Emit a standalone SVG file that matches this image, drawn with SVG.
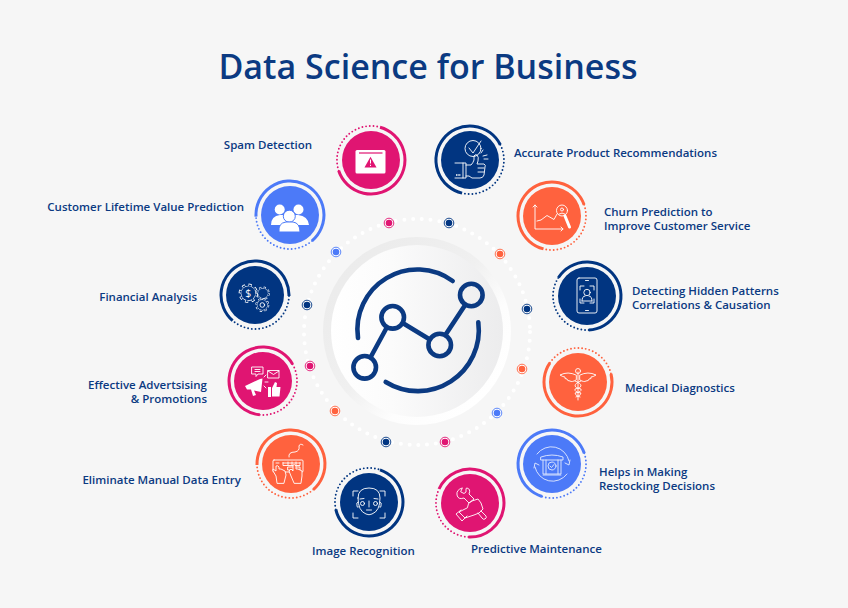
<svg xmlns="http://www.w3.org/2000/svg" width="848" height="608" viewBox="0 0 848 608">
<style>
text{font-family:"Open Sans","Noto Sans","Liberation Sans",sans-serif;font-weight:600;fill:#0b3a82}
.lb{font-size:11.5px}
.end{text-anchor:end}
.s{fill:none;stroke-width:3}
.d{fill:none;stroke-width:1.9;stroke-linecap:round;stroke-dasharray:0 3.7}
.i{fill:none;stroke:#fff;stroke-width:.9;stroke-linejoin:round;stroke-linecap:round}
.w{fill:#fff}
.navy{color:#013581}.pink{color:#e01572}.org{color:#ff623e}.blue{color:#4c7af8}
.c{fill:currentColor}.r{stroke:currentColor}
.dot{fill:#fff;stroke-width:.9}
.g{fill:none;stroke:#0b3a82;stroke-width:4.6;stroke-linecap:round}
</style>
<defs>
<linearGradient id="disc" x1="0" y1="0.5" x2="1" y2="0.5"><stop offset="0" stop-color="#ffffff"/><stop offset=".35" stop-color="#fbfbfb"/><stop offset="1" stop-color="#ececed"/></linearGradient>
<linearGradient id="halo" x1="0.1" y1="0.1" x2="0.85" y2="0.85"><stop offset="0" stop-color="#ebebeb"/><stop offset=".5" stop-color="#f0f0f0"/><stop offset=".75" stop-color="#fdfdfd"/><stop offset="1" stop-color="#ffffff"/></linearGradient>
<g id="gear"><circle r="8" fill="none" stroke="#fff" stroke-width="3.4" stroke-dasharray="3 3.28"/><circle r="7.6" fill="#fff"/><circle r="8" fill="none" stroke="#013581" stroke-width="1.7" stroke-dasharray="2 4.28" stroke-dashoffset="-.5"/><circle r="7" fill="#013581"/></g>
</defs>
<rect width="848" height="608" fill="#f6f6f6"/>
<text x="428" y="79" text-anchor="middle" font-size="34" id="title">Data Science for Business</text>

<g id="connectors">
<circle cx="417" cy="332" r="113" fill="none" stroke="#fff" stroke-width="4" stroke-linecap="round" stroke-dasharray="0 8.8"/>
<g class="pink"><circle class="dot r" cx="389" cy="223" r="4.8"/><circle class="c" cx="389" cy="223" r="3.3"/></g>
<g class="navy"><circle class="dot r" cx="449" cy="223" r="4.8"/><circle class="c" cx="449" cy="223" r="3.3"/></g>
<g class="org"><circle class="dot r" cx="500" cy="254" r="4.8"/><circle class="c" cx="500" cy="254" r="3.3"/></g>
<g class="navy"><circle class="dot r" cx="527" cy="309" r="4.8"/><circle class="c" cx="527" cy="309" r="3.3"/></g>
<g class="org"><circle class="dot r" cx="522" cy="369" r="4.8"/><circle class="c" cx="522" cy="369" r="3.3"/></g>
<g class="blue"><circle class="dot r" cx="497" cy="413" r="4.8"/><circle class="c" cx="497" cy="413" r="3.3"/></g>
<g class="pink"><circle class="dot r" cx="445" cy="442" r="4.8"/><circle class="c" cx="445" cy="442" r="3.3"/></g>
<g class="navy"><circle class="dot r" cx="386" cy="442" r="4.8"/><circle class="c" cx="386" cy="442" r="3.3"/></g>
<g class="org"><circle class="dot r" cx="335" cy="411" r="4.8"/><circle class="c" cx="335" cy="411" r="3.3"/></g>
<g class="pink"><circle class="dot r" cx="310" cy="366" r="4.8"/><circle class="c" cx="310" cy="366" r="3.3"/></g>
<g class="navy"><circle class="dot r" cx="307" cy="305" r="4.8"/><circle class="c" cx="307" cy="305" r="3.3"/></g>
<g class="blue"><circle class="dot r" cx="336" cy="252" r="4.8"/><circle class="c" cx="336" cy="252" r="3.3"/></g>
</g>

<g id="center">
<circle cx="417" cy="331" r="94" fill="url(#halo)"/>
<circle cx="417" cy="331" r="86" fill="url(#disc)"/>
<path class="g" d="M358 338A60 60 0 0 1 452.7 281"/>
<path class="g" d="M478.3 322.3A61 61 0 0 1 385.7 382"/>
<path class="g" d="M371 356.5L386.5 328M403.5 323.5L429 339M446 334L464.5 306"/>
<circle class="g" cx="364.7" cy="367.3" r="11.3"/>
<circle class="g" cx="392.7" cy="317.3" r="11.3"/>
<circle class="g" cx="439.7" cy="345" r="11.3"/>
<circle class="g" cx="471.3" cy="295" r="11.3"/>
</g>

<g id="spam" class="pink" transform="translate(371 160)">
<path class="s r" d="M9 -32.8A34 34 0 1 1 -32.3 10.7"/><path class="d r" d="M-32.3 10.7A34 34 0 0 1 9 -32.8"/>
<circle class="c" r="29"/>
<rect class="w" x="-15.5" y="-10" width="30" height="23.5" rx="1.5"/>
<path d="M-12 -7H11.5" stroke="#e01572" stroke-width="1.2" fill="none"/>
<path class="c" d="M-.5 -3.2L5.5 7.5H-6.5Z"/>
<path d="M-.5 -.5V3.5M-.5 4.8V6" stroke="#fff" stroke-width="1"/>
</g>
<g id="customer" class="blue" transform="translate(290 215)">
<path class="s r" d="M-34 1.6A34 34 0 1 1 22 25.9"/><path class="d r" d="M22 25.9A34 34 0 0 1 -34 1.6"/>
<circle class="c" r="29"/>
<circle class="w" cx="-10.3" cy="-5.5" r="5"/><circle class="w" cx="8.5" cy="-5.5" r="5"/>
<path class="w" d="M-19 10Q-19 1 -10 0H8Q18 1 19 10L8 10V13H-10V10Z"/>
<circle class="w" cx="-.7" cy="1.2" r="6" stroke="#4c7af8" stroke-width="1"/>
<path class="w" stroke="#4c7af8" stroke-width="1" d="M-11 17Q-12 8 -4 7H3Q10 8 10 17Z"/>
</g>
<g id="financial" class="navy" transform="translate(255 295)">
<path class="s r" d="M-22.4 25.6A34 34 0 1 1 34 1"/><path class="d r" d="M34 1A34 34 0 0 1 -22.4 25.6"/>
<circle class="c" r="29"/>
<use href="#gear" transform="translate(8 -1.7) scale(.7)"/>
<use href="#gear" transform="translate(7.3 10) scale(.72)"/>
<circle class="i" cx="7.3" cy="10" r="2.3"/>
<use href="#gear" transform="translate(-6.7 -1.7)"/>
<text x="-6.7" y="2" text-anchor="middle" font-size="10.5" style="fill:#fff;font-weight:400">$</text>
</g>
<g id="advert" class="pink" transform="translate(263 381)">
<path class="s r" d="M-3.3 33.8A34 34 0 1 1 29.6 -16.8"/><path class="d r" d="M29.6 -16.8A34 34 0 0 1 -3.3 33.8"/>
<circle class="c" r="29"/>
<path class="i" d="M-11 -14H0V-7H-5L-7 -4.5V-7H-11ZM5 -10.5H16V-3H5ZM5 -10L10.5 -6.5L16 -10"/>
<path class="i" d="M-8 -11.5H-3M-8 -9.5H-3"/>
<path class="w" d="M-18 5L-3 -2L-.5 -2.5L-2 11L-9 9.5L-7 14L-10 15L-12 8.5L-16 8.5Z"/>
<path class="i" d="M1 -4L3 -6M2 1H5M1 5L3 7"/>
<path class="w" d="M5 6H8V16H5ZM9 7L12 1L14 2L13.5 6H17.5L16.5 15.5H9Z"/>
</g>
<g id="eliminate" class="org" transform="translate(291 464)">
<path class="s r" d="M-34 1A34 34 0 1 1 22.3 25.6"/><path class="d r" d="M22.3 25.6A34 34 0 0 1 -34 1"/>
<circle class="c" r="29"/>
<path class="i" d="M-2 -7Q-3 -12 4 -12Q9 -13 8 -18Q9 -21 12 -19"/>
<rect class="i" x="-18" y="-4" width="30" height="12" rx="1"/>
<path class="i" d="M-15 -1H-12M-8 -1H9M-8 -1.5V1.5H9V-1.5M-3 -2V1M1 -2V1M5 -2V1M-3 3H9V6H-3Z"/>
<path class="i" style="fill:#ff623e" d="M-14 19L-15 12L-18 7V5L-15 7V2Q-13 1 -12 3L-12 5L-10 5L-8 6L-6 7L-5 11L-7 19ZM3 19L0 12L-2 7L0 5L2 7L2 1Q4 0 5 2L5 5L7 5L9 6L11 7L11 12L10 19Z"/>
</g>
<g id="image" class="navy" transform="translate(369 502)">
<path class="s r" d="M11 -32.2A34 34 0 1 1 -33.2 7.4"/><path class="d r" d="M-33.2 7.4A34 34 0 0 1 11 -32.2"/>
<circle class="c" r="29"/>
<path class="i" d="M-11 -4Q-11 -14 0 -14Q11 -14 11 -4Q11 9 3 12Q0 13.5 -3 12Q-11 9 -11 -4ZM-11 0Q-13 0 -12 4Q-12 6 -10.5 5M11 0Q13 0 12 4Q12 6 10.5 5"/>
<path class="i" d="M-16 -6V-11H-11M11 -11H16V-6M-16 11V16H-11M11 16H16V11"/>
<circle class="i" cx="-6.5" cy="1.5" r="2"/><circle class="i" cx="6.5" cy="1.5" r="2"/>
<path class="i" d="M-9 -3L-5 -3.5M9 -3L5 -3.5M0 -1V5M-2.5 8H2.5"/>
</g>
<g id="predictive" class="pink" transform="translate(470 503)">
<path class="s r" d="M-31 -14A34 34 0 1 1 -1.6 34"/><path class="d r" d="M-1.6 34A34 34 0 0 1 -31 -14"/>
<circle class="c" r="29"/>
<path class="i" d="M-8 -15Q-14 -13 -13 -8Q-12 -3 -6 -5L-1 0L4 -4L-1 -9Q1 -14 -3 -15L-4 -14.5L-4 -11L-6 -9.5L-9 -11Z"/>
<path class="i" d="M-1 0L2 -2L8 -4L11 0L13 6L9 10L4 12L-5 15L-11 9L-3 5Z"/>
<path class="i" d="M-9 7L-14 11L-8 18L-3 13M11 8L16 13Q17 15 15 16Q13 17 12 15L8 10"/>
</g>
<g id="accurate" class="navy" transform="translate(470 160)">
<path class="s r" d="M-7.9 33.1A34 34 0 1 1 30.3 -15.3"/><path class="d r" d="M30.3 -15.3A34 34 0 0 1 -7.9 33.1"/>
<circle class="c" r="29"/>
<circle class="i" cx="3" cy="-11.5" r="8"/>
<path class="i" d="M-1 -12L3 -7L11 -19"/>
<path class="i" d="M-15 3H-4V18H-15M-7 3V18M-4 5H1Q3 3 4 0L4 -4Q5 -6 7 -5Q9 -3 8 1L7 4L14 4Q16 5 15 7L14 15Q13 18 10 18H2L-1 16H-4"/>
<path class="i" d="M8 8H14M8 12H14M11 -7L13 -10M13 -4L17 -5M14 -1H18"/>
<path d="M-14 15H-9" stroke="#fff" stroke-width="1.6" stroke-dasharray="1.5 .8"/>
</g>
<g id="churn" class="org" transform="translate(552 216)">
<path class="s r" d="M-8.5 32.9A34 34 0 1 1 32.1 -11.2"/><path class="d r" d="M32.1 -11.2A34 34 0 0 1 -8.5 32.9"/>
<circle class="c" r="29"/>
<path class="i" d="M-17 -11V13H11M-19 -9L-17 -11L-15 -9M9 11L11 13L9 15"/>
<path class="i" d="M-15 5L-11 4L-5 -.5L2 3.5L5 -2"/>
<circle class="i" cx="10" cy="-5.5" r="5.5"/><circle class="i" cx="10" cy="-6.5" r="1.5"/><path class="i" d="M7 -2Q10 -4 13 -2"/>
<path d="M13 0L17.5 11" stroke="#fff" stroke-width="3" stroke-linecap="round"/>
</g>
<g id="detecting" class="navy" transform="translate(587 296)">
<path class="s r" d="M-28.5 -18.5A34 34 0 1 1 1.7 34"/><path class="d r" d="M1.7 34A34 34 0 0 1 -28.5 -18.5"/>
<circle class="c" r="29"/>
<rect class="i" x="-10" y="-18" width="20" height="35" rx="2"/>
<path class="i" d="M-1.5 -15.5H1.5M-1.5 14.5H1.5M-7 -6V-10H-3M3 -10H7V-6M-7 3V7H-3M3 7H7V3"/>
<circle class="i" cx="0" cy="-3.5" r="3.2"/>
<path class="i" d="M-5 5Q-5 0 -2 0M5 5Q5 0 2 0M-5 5H5"/>
</g>
<g id="medical" class="org" transform="translate(578 382)">
<path class="s r" d="M33 -8.2A34 34 0 1 1 -28.1 -19.2"/><path class="d r" d="M-28.1 -19.2A34 34 0 0 1 33 -8.2"/>
<circle class="c" r="29"/>
<path class="i" d="M0 -10V18"/><circle class="i" cx="0" cy="-11" r="2.5"/>
<path class="i" d="M-2 -7Q-10 -11 -18 -7Q-15 -5 -13 -5Q-14 -3 -11 -3Q-11 -1 -8 -1Q-6 .5 -2 -2ZM2 -7Q10 -11 18 -7Q15 -5 13 -5Q14 -3 11 -3Q11 -1 8 -1Q6 .5 2 -2Z"/>
<path class="i" d="M-3 -1Q3 1 3 4Q3 6 -3 7Q-4 10 3 11Q3 14 -2 15M3 -1Q-3 1 -3 4Q-3 6 3 7Q4 10 -3 11Q-3 14 2 15"/>
</g>
<g id="helps" class="blue" transform="translate(552 464)">
<path class="s r" d="M-10 32.5A34 34 0 1 1 32.3 -10.7"/><path class="d r" d="M32.3 -10.7A34 34 0 0 1 -10 32.5"/>
<circle class="c" r="29"/>
<g style="opacity:.85"><path class="i" d="M-15 -10A18 18 0 0 1 17 -3M18 -4L17 1L13 -1M15 10A18 18 0 0 1 -17 3M-18 4L-17 -1L-13 1"/>
<path class="i" d="M-11 -7Q0 -11 11 -7V-4H-11ZM-9 -4V10H9V-4M-6 -4V10M6 -4V10M-9 11H9"/>
<circle class="i" cx="0" cy="2" r="4"/><path class="i" d="M-2 2L-.5 3.5L2 .5"/></g>
</g>

<text class="lb end" x="312" y="149">Spam Detection</text>
<text class="lb end" x="244" y="211">Customer Lifetime Value Prediction</text>
<text class="lb end" x="197" y="301">Financial Analysis</text>
<text class="lb end" x="207" y="389">Effective Advertsising</text>
<text class="lb end" x="207" y="403">&amp; Promotions</text>
<text class="lb end" x="241" y="484">Eliminate Manual Data Entry</text>
<text class="lb" x="312" y="555">Image Recognition</text>
<text class="lb" x="471" y="553">Predictive Maintenance</text>
<text class="lb" x="599" y="476">Helps in Making</text>
<text class="lb" x="599" y="490">Restocking Decisions</text>
<text class="lb" x="625" y="392">Medical Diagnostics</text>
<text class="lb" x="632" y="295">Detecting Hidden Patterns</text>
<text class="lb" x="632" y="309">Correlations &amp; Causation</text>
<text class="lb" x="604" y="216">Churn Prediction to</text>
<text class="lb" x="604" y="230">Improve Customer Service</text>
<text class="lb" x="514" y="157">Accurate Product Recommendations</text>
</svg>
